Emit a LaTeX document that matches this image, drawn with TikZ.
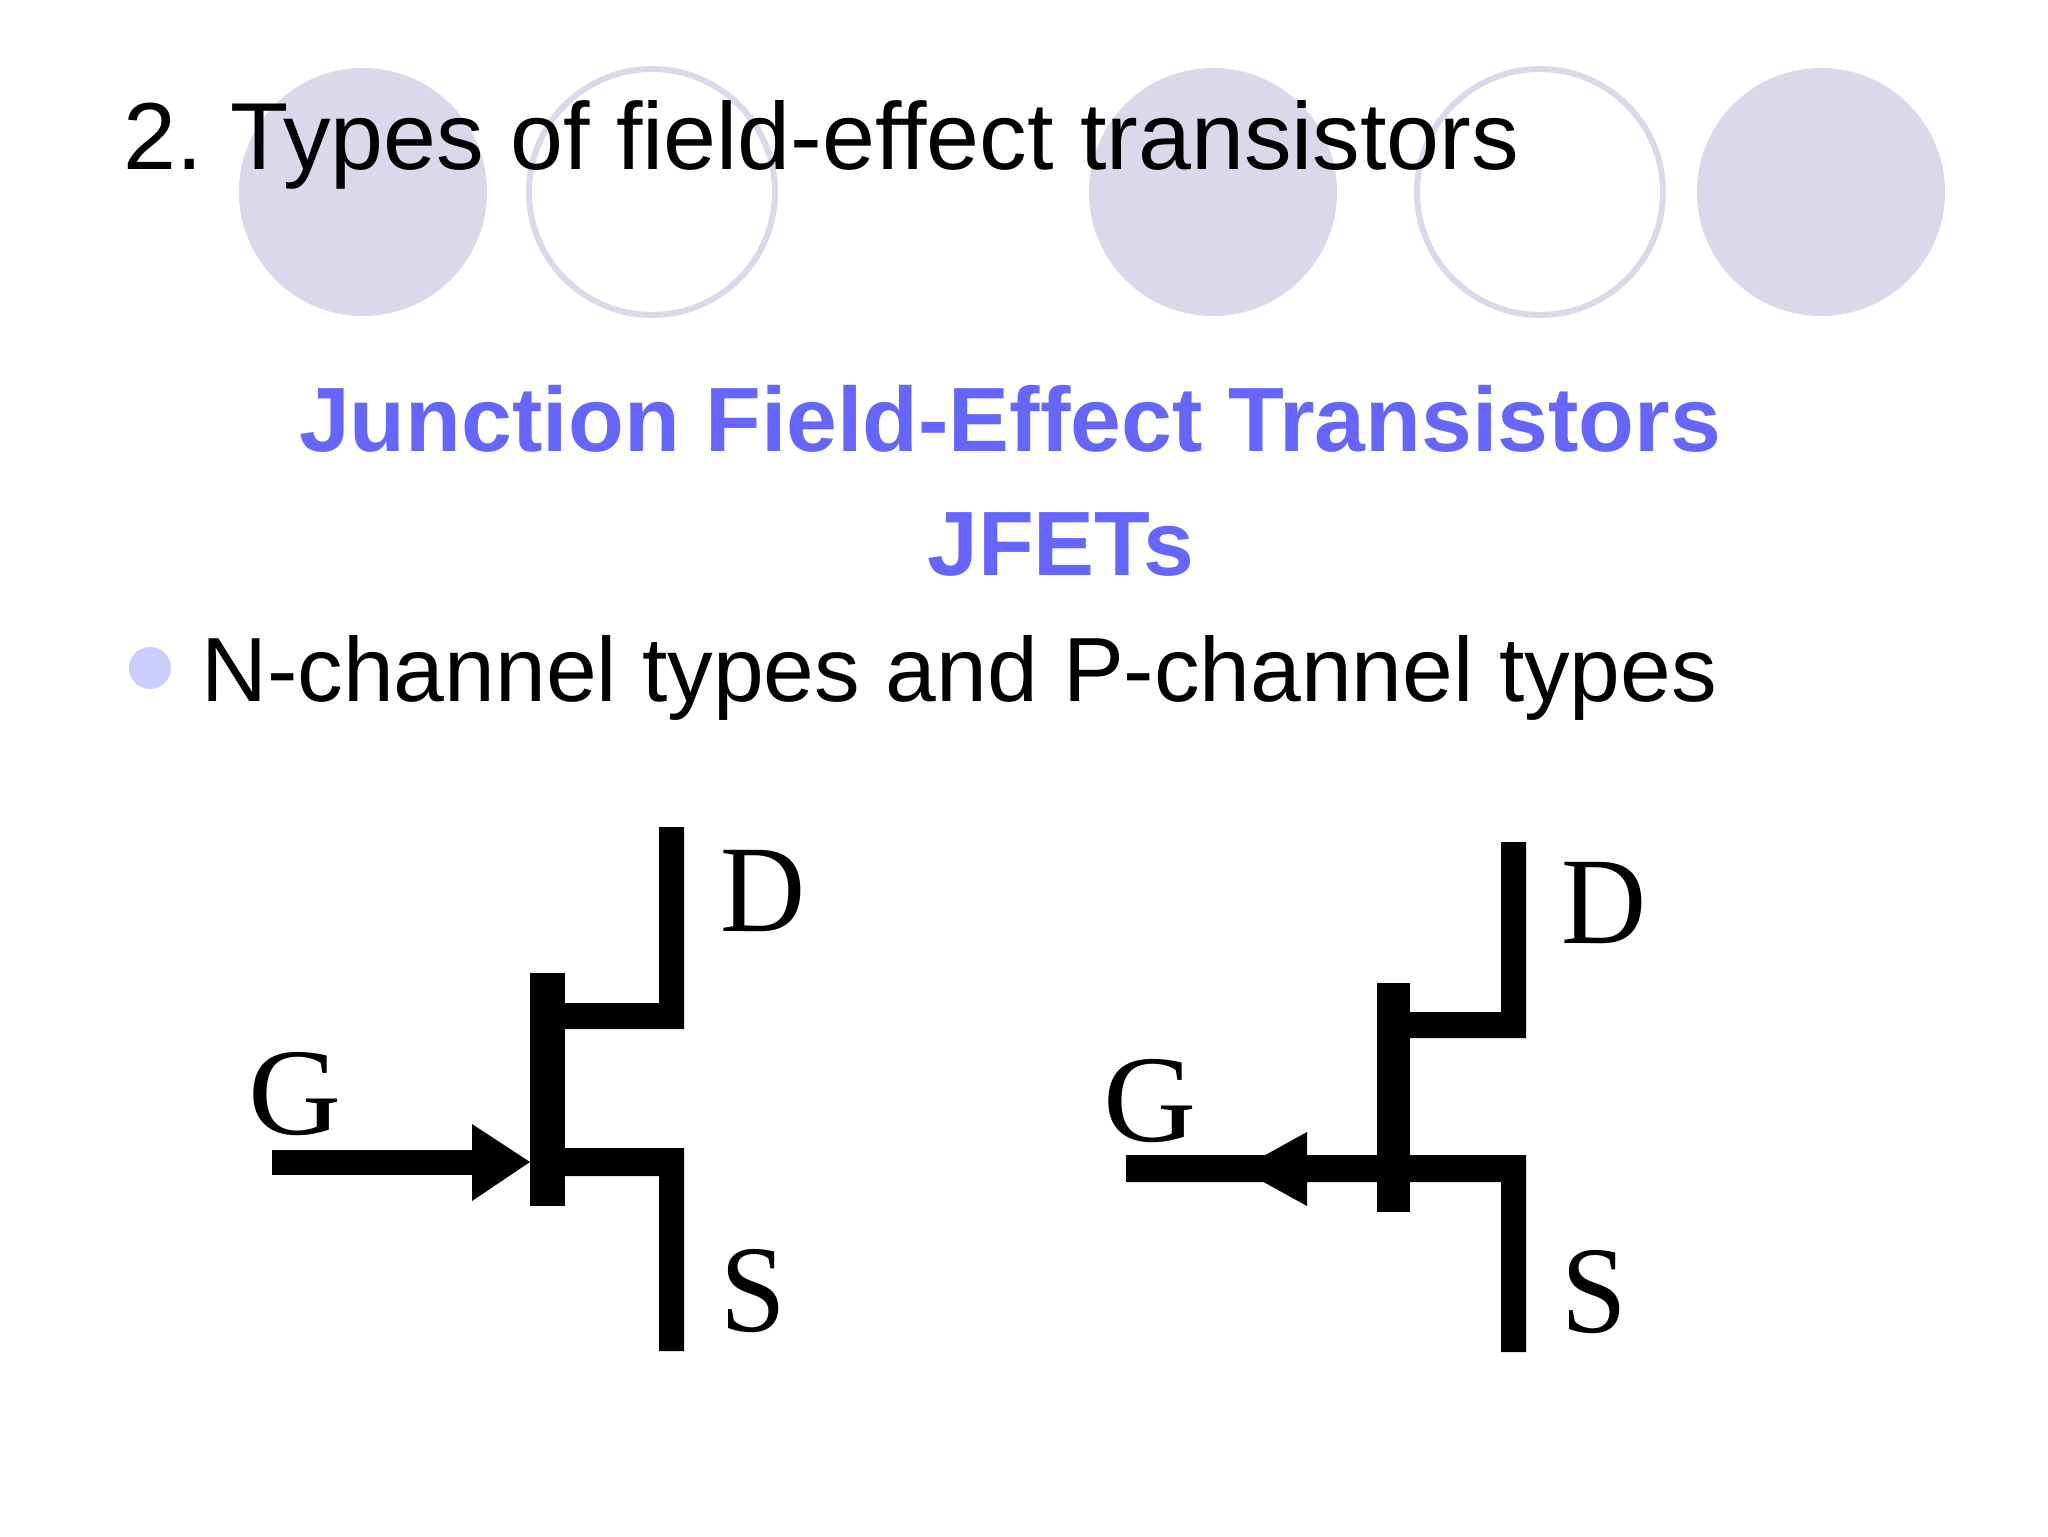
\documentclass[tikz,border=0pt]{standalone}
\usepackage{fontspec}
\setmainfont{Liberation Sans}
\newfontfamily\symfont{Liberation Serif}
\definecolor{lav}{HTML}{DAD9EB}
\definecolor{bul}{HTML}{CCCCFF}
\definecolor{head}{HTML}{6666FF}
\tikzset{
 discfill/.style={circle,fill=lav,minimum size=124pt,inner sep=0pt,outer sep=0pt},
 discring/.style={circle,draw=lav,line width=3pt,fill=white,minimum size=123pt,inner sep=0pt,outer sep=0pt},
 titletext/.style={anchor=base west,inner sep=0pt,font=\fontsize{47.6}{48}\selectfont},
 bodytext/.style={anchor=base west,inner sep=0pt,font=\fontsize{45.6}{46}\selectfont},
 headtext/.style={anchor=base,inner sep=0pt,text=head,font=\fontsize{45.7}{46}\selectfont\bfseries},
 termlabel/.style={anchor=base west,inner sep=0pt,font=\symfont\fontsize{62}{62}\selectfont,xscale=.95,transform shape},
 gatelabel/.style={anchor=base west,inner sep=0pt,font=\symfont\fontsize{62}{62}\selectfont,xscale=1.04,transform shape}
}
\begin{document}
\begin{tikzpicture}[x=.5pt,y=-.5pt]
\useasboundingbox (0,0) rectangle (2048,1536);
\fill[white] (0,0) rectangle (2048,1536);
\node[discfill] (c1) at (363,192) {};
\node[discring] (c2) at (652,192) {};
\node[discfill] (c3) at (1213,192) {};
\node[discring] (c4) at (1540,192) {};
\node[discfill] (c5) at (1821,192) {};
\node[titletext] (title) at (123,169) {2.\hspace{-4pt} Types of field-effect transistors};
\node[headtext] (h1) at (1010,451) {Junction Field-Effect Transistors};
\node[headtext] (h2) at (1061,575) {JFETs};
\node[circle,fill=bul,minimum size=21pt,inner sep=0pt] (b) at (150,668) {};
\node[bodytext] (l) at (201,701) {N-channel types and P-channel types};
% left transistor
\fill (530,973) rectangle (565,1206);
\fill (565,1029) -| (684,827) -- (659,827) |- (565,1003) -- cycle;
\fill (565,1148) -| (684,1351) -- (659,1351) |- (565,1176) -- cycle;
\fill (272,1150) rectangle (480,1175);
\fill (472,1124) -- (530,1162) -- (472,1201) -- cycle;
\node[termlabel] (d1) at (720,931) {D};
\node[gatelabel] (g1) at (248,1134) {G};
\node[termlabel] (s1) at (720,1331) {S};
% right transistor
\fill (1377,983) rectangle (1410,1212);
\fill (1410,1038) -| (1526,842) -- (1501,842) |- (1410,1012) -- cycle;
\fill (1126,1155) -| (1526,1352) -- (1501,1352) |- (1126,1182) -- cycle;
\fill (1240,1169) -- (1307,1132) -- (1307,1206) -- cycle;
\node[termlabel] (d2) at (1561,943) {D};
\node[gatelabel] (g2) at (1103,1141) {G};
\node[termlabel] (s2) at (1561,1332) {S};
\end{tikzpicture}
\end{document}
